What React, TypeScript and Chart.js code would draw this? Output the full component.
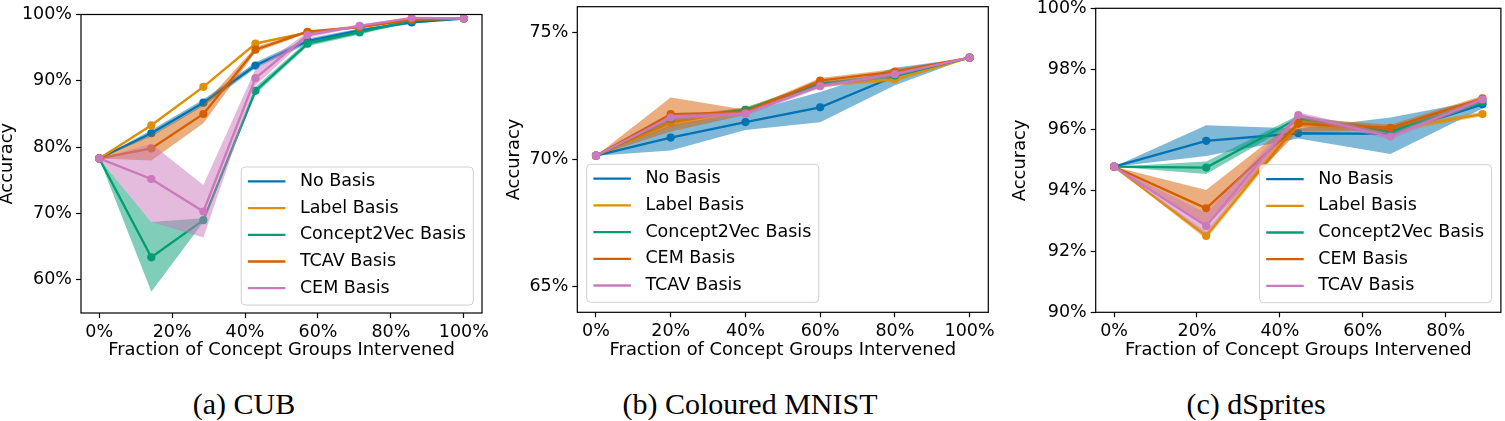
import React, { useEffect, useRef } from 'react';
import { Chart, registerables } from 'chart.js';

Chart.register(...registerables);

const COLORS = ['#0173b2', '#de8f05', '#029e73', '#d55e00', '#cc78bc'];
const FONT = '"DejaVu Sans", sans-serif';
const FS = 17.5;

// ---------- (a) CUB ----------
const CUB_X = [0, 14.29, 28.57, 42.86, 57.14, 71.43, 85.71, 100];
const CUB_X_TICKS = [0, 20, 40, 60, 80, 100];
const CUB_Y_TICKS = [60, 70, 80, 90, 100];
const CUB_LABELS = ['No Basis', 'Label Basis', 'Concept2Vec Basis', 'TCAV Basis', 'CEM Basis'];
const CUB_NO_BASIS = [78.3, 82.1, 86.7, 92.3, 96.0, 97.6, 98.8, 99.4];
const CUB_NO_BASIS_LO = [78.3, 81.6, 86.2, 91.9, 95.6, 97.3, 98.6, 99.4];
const CUB_NO_BASIS_HI = [78.3, 82.6, 87.2, 92.8, 96.4, 97.9, 99.0, 99.4];
const CUB_LABEL = [78.3, 83.3, 89.1, 95.6, 97.3, 98.1, 99.3, 99.4];
const CUB_LABEL_LO = [78.3, 83.1, 88.95, 95.4, 97.2, 98.0, 99.2, 99.4];
const CUB_LABEL_HI = [78.3, 83.5, 89.25, 95.8, 97.4, 98.2, 99.4, 99.4];
const CUB_C2V = [78.3, 63.4, 69.0, 88.5, 95.6, 97.3, 99.1, 99.4];
const CUB_C2V_LO = [78.3, 58.2, 68.7, 88.0, 95.2, 97.0, 98.9, 99.4];
const CUB_C2V_HI = [78.3, 68.7, 69.3, 89.1, 96.0, 97.6, 99.3, 99.4];
const CUB_TCAV = [78.3, 79.8, 85.0, 94.7, 97.4, 98.1, 99.2, 99.4];
const CUB_TCAV_LO = [78.3, 78.0, 83.6, 94.3, 97.2, 98.0, 99.1, 99.4];
const CUB_TCAV_HI = [78.3, 81.8, 86.4, 95.1, 97.6, 98.3, 99.3, 99.4];
const CUB_CEM = [78.3, 75.2, 70.3, 90.4, 96.9, 98.3, 99.5, 99.4];
const CUB_CEM_LO = [78.3, 68.7, 66.4, 89.3, 96.5, 98.1, 99.4, 99.4];
const CUB_CEM_HI = [78.3, 80.5, 74.3, 91.8, 97.3, 98.5, 99.6, 99.4];

// ---------- (b) Coloured MNIST ----------
const MNIST_X = [0, 20, 40, 60, 80, 100];
const MNIST_X_TICKS = [0, 20, 40, 60, 80, 100];
const MNIST_Y_TICKS = [65, 70, 75];
const MNIST_LABELS = ['No Basis', 'Label Basis', 'Concept2Vec Basis', 'CEM Basis', 'TCAV Basis'];
const MNIST_NO_BASIS = [70.15, 70.86, 71.47, 72.05, 73.27, 74.0];
const MNIST_NO_BASIS_LO = [70.15, 70.35, 71.16, 71.46, 72.92, 74.0];
const MNIST_NO_BASIS_HI = [70.15, 71.35, 71.85, 72.65, 73.6, 74.0];
const MNIST_LABEL = [70.15, 71.45, 71.95, 72.95, 73.15, 74.0];
const MNIST_LABEL_LO = [70.15, 71.3, 71.85, 72.85, 73.05, 74.0];
const MNIST_LABEL_HI = [70.15, 71.6, 72.05, 73.05, 73.25, 74.0];
const MNIST_C2V = [70.15, 71.6, 71.95, 72.97, 73.3, 74.0];
const MNIST_C2V_LO = [70.15, 71.5, 71.87, 72.89, 73.22, 74.0];
const MNIST_C2V_HI = [70.15, 71.7, 72.03, 73.05, 73.38, 74.0];
const MNIST_CEM = [70.15, 71.78, 71.85, 73.1, 73.45, 74.0];
const MNIST_CEM_LO = [70.15, 71.1, 71.75, 73.0, 73.35, 74.0];
const MNIST_CEM_HI = [70.15, 72.43, 71.95, 73.2, 73.55, 74.0];
const MNIST_TCAV = [70.15, 71.65, 71.8, 72.88, 73.35, 74.0];
const MNIST_TCAV_LO = [70.15, 71.55, 71.72, 72.8, 73.27, 74.0];
const MNIST_TCAV_HI = [70.15, 71.75, 71.88, 72.96, 73.43, 74.0];

// ---------- (c) dSprites ----------
const DSPR_X = [0, 22.22, 44.44, 66.67, 88.89];
const DSPR_X_TICKS = [0, 20, 40, 60, 80];
const DSPR_Y_TICKS = [90, 92, 94, 96, 98, 100];
const DSPR_LABELS = ['No Basis', 'Label Basis', 'Concept2Vec Basis', 'CEM Basis', 'TCAV Basis'];
const DSPR_NO_BASIS = [94.79, 95.64, 95.89, 95.87, 96.84];
const DSPR_NO_BASIS_LO = [94.79, 95.14, 95.72, 95.21, 96.7];
const DSPR_NO_BASIS_HI = [94.79, 96.15, 96.05, 96.41, 96.98];
const DSPR_LABEL = [94.79, 92.51, 96.22, 96.0, 96.52];
const DSPR_LABEL_LO = [94.79, 92.4, 96.1, 95.9, 96.45];
const DSPR_LABEL_HI = [94.79, 92.65, 96.35, 96.1, 96.6];
const DSPR_C2V = [94.79, 94.76, 96.38, 95.94, 96.93];
const DSPR_C2V_LO = [94.79, 94.55, 96.28, 95.84, 96.85];
const DSPR_C2V_HI = [94.79, 94.96, 96.48, 96.04, 97.01];
const DSPR_CEM = [94.79, 93.42, 96.2, 96.07, 97.04];
const DSPR_CEM_LO = [94.79, 92.82, 95.95, 95.97, 96.96];
const DSPR_CEM_HI = [94.79, 94.02, 96.4, 96.17, 97.12];
const DSPR_TCAV = [94.79, 92.84, 96.49, 95.78, 97.0];
const DSPR_TCAV_LO = [94.79, 92.55, 96.4, 95.68, 96.92];
const DSPR_TCAV_HI = [94.79, 93.26, 96.58, 95.88, 97.08];

const Y_TITLE = 'Accuracy';
const X_TITLE = 'Fraction of Concept Groups Intervened';

type Series = { label: string; mean: number[]; lo: number[]; hi: number[] };

const PANELS = [
  {
    key: 'cub', left: 0, width: 500, height: 370,
    area: { left: 81, right: 482, top: 14.5, bottom: 313 },
    x: CUB_X, xMin: -5, xMax: 105, xTicks: CUB_X_TICKS,
    yMin: 55, yMax: 100, yTicks: CUB_Y_TICKS, yTitlePad: -1.5,
    legend: { side: 'right', dx: 8.7, dy: 8 },
    caption: '(a) CUB', captionX: 244,
    series: [
      { label: CUB_LABELS[0], mean: CUB_NO_BASIS, lo: CUB_NO_BASIS_LO, hi: CUB_NO_BASIS_HI },
      { label: CUB_LABELS[1], mean: CUB_LABEL, lo: CUB_LABEL_LO, hi: CUB_LABEL_HI },
      { label: CUB_LABELS[2], mean: CUB_C2V, lo: CUB_C2V_LO, hi: CUB_C2V_HI },
      { label: CUB_LABELS[3], mean: CUB_TCAV, lo: CUB_TCAV_LO, hi: CUB_TCAV_HI },
      { label: CUB_LABELS[4], mean: CUB_CEM, lo: CUB_CEM_LO, hi: CUB_CEM_HI },
    ] as Series[],
  },
  {
    key: 'mnist', left: 500, width: 500, height: 370,
    area: { left: 77.3, right: 488.3, top: 6.7, bottom: 312.3 },
    x: MNIST_X, xMin: -5, xMax: 105, xTicks: MNIST_X_TICKS,
    yMin: 64, yMax: 76, yTicks: MNIST_Y_TICKS, yTitlePad: 5.9,
    legend: { side: 'left', dx: 9.4, dy: 10 },
    caption: '(b) Coloured MNIST', captionX: 750,
    series: [
      { label: MNIST_LABELS[0], mean: MNIST_NO_BASIS, lo: MNIST_NO_BASIS_LO, hi: MNIST_NO_BASIS_HI },
      { label: MNIST_LABELS[1], mean: MNIST_LABEL, lo: MNIST_LABEL_LO, hi: MNIST_LABEL_HI },
      { label: MNIST_LABELS[2], mean: MNIST_C2V, lo: MNIST_C2V_LO, hi: MNIST_C2V_HI },
      { label: MNIST_LABELS[3], mean: MNIST_CEM, lo: MNIST_CEM_LO, hi: MNIST_CEM_HI },
      { label: MNIST_LABELS[4], mean: MNIST_TCAV, lo: MNIST_TCAV_LO, hi: MNIST_TCAV_HI },
    ] as Series[],
  },
  {
    key: 'dspr', left: 1000, width: 505, height: 370,
    area: { left: 95.7, right: 502, top: 8.3, bottom: 312.3 },
    x: DSPR_X, xMin: -4.444, xMax: 93.333, xTicks: DSPR_X_TICKS,
    yMin: 90, yMax: 100, yTicks: DSPR_Y_TICKS, yTitlePad: 11.9,
    legend: { side: 'right', dx: 9.3, dy: 9.6 },
    caption: '(c) dSprites', captionX: 1256,
    series: [
      { label: DSPR_LABELS[0], mean: DSPR_NO_BASIS, lo: DSPR_NO_BASIS_LO, hi: DSPR_NO_BASIS_HI },
      { label: DSPR_LABELS[1], mean: DSPR_LABEL, lo: DSPR_LABEL_LO, hi: DSPR_LABEL_HI },
      { label: DSPR_LABELS[2], mean: DSPR_C2V, lo: DSPR_C2V_LO, hi: DSPR_C2V_HI },
      { label: DSPR_LABELS[3], mean: DSPR_CEM, lo: DSPR_CEM_LO, hi: DSPR_CEM_HI },
      { label: DSPR_LABELS[4], mean: DSPR_TCAV, lo: DSPR_TCAV_LO, hi: DSPR_TCAV_HI },
    ] as Series[],
  },
];

function hexA(hex: string, a: number) {
  const n = parseInt(hex.slice(1), 16);
  return `rgba(${(n >> 16) & 255},${(n >> 8) & 255},${n & 255},${a})`;
}

function roundRectPath(ctx: CanvasRenderingContext2D, x: number, y: number, w: number, h: number, r: number) {
  ctx.beginPath();
  ctx.moveTo(x + r, y);
  ctx.lineTo(x + w - r, y);
  ctx.arcTo(x + w, y, x + w, y + r, r);
  ctx.lineTo(x + w, y + h - r);
  ctx.arcTo(x + w, y + h, x + w - r, y + h, r);
  ctx.lineTo(x + r, y + h);
  ctx.arcTo(x, y + h, x, y + h - r, r);
  ctx.lineTo(x, y + r);
  ctx.arcTo(x, y, x + r, y, r);
  ctx.closePath();
}

const framePlugin = {
  id: 'frame',
  afterDatasetsDraw(chart: any) {
    const { ctx, chartArea: a } = chart;
    ctx.save();
    ctx.strokeStyle = '#000';
    ctx.lineWidth = 1.2;
    ctx.strokeRect(a.left, a.top, a.right - a.left, a.bottom - a.top);
    ctx.restore();
  },
};

function makeLegendPlugin(cfg: { side: string; dx: number; dy: number }) {
  return {
    id: 'mplLegend',
    afterDraw(chart: any) {
      const { ctx, chartArea: a } = chart;
      const items = chart.data.datasets.filter((d: any) => d.isMean);
      ctx.save();
      ctx.font = `${FS}px ${FONT}`;
      const textW = Math.max(...items.map((d: any) => ctx.measureText(d.label).width));
      const padL = 6.7, lineLen = 37.5, gap = 14.5, padR = 7.5;
      const rowH = 26.7, firstRow = 14.4, boxH = 138;
      const w = padL + lineLen + gap + textW + padR;
      const x = cfg.side === 'left' ? a.left + cfg.dx : a.right - cfg.dx - w;
      const y = a.bottom - cfg.dy - boxH;
      roundRectPath(ctx, x, y, w, boxH, 4);
      ctx.fillStyle = 'rgba(255,255,255,0.8)';
      ctx.fill();
      ctx.strokeStyle = '#d0d0d0';
      ctx.lineWidth = 1;
      ctx.stroke();
      items.forEach((d: any, i: number) => {
        const cy = y + firstRow + i * rowH;
        ctx.strokeStyle = d.borderColor;
        ctx.lineWidth = 2.3;
        ctx.beginPath();
        ctx.moveTo(x + padL, cy);
        ctx.lineTo(x + padL + lineLen, cy);
        ctx.stroke();
        ctx.fillStyle = '#000';
        ctx.textBaseline = 'middle';
        ctx.textAlign = 'left';
        ctx.fillText(d.label, x + padL + lineLen + gap, cy);
      });
      ctx.restore();
    },
  };
}

function Panel({ cfg }: { cfg: (typeof PANELS)[number] }) {
  const ref = useRef<HTMLCanvasElement>(null);
  useEffect(() => {
    if (!ref.current) return;
    const datasets: any[] = [];
    cfg.series.forEach((s, i) => {
      const color = COLORS[i];
      const base = 100 - i * 10;
      datasets.push({
        label: s.label + ' upper',
        data: cfg.x.map((x, j) => ({ x, y: s.hi[j] })),
        borderWidth: 0, borderColor: 'rgba(0,0,0,0)', pointRadius: 0,
        backgroundColor: hexA(color, 0.5), fill: '+1', order: base, tension: 0,
      });
      datasets.push({
        label: s.label + ' lower',
        data: cfg.x.map((x, j) => ({ x, y: s.lo[j] })),
        borderWidth: 0, borderColor: 'rgba(0,0,0,0)', pointRadius: 0,
        fill: false, order: base - 1, tension: 0,
      });
      datasets.push({
        label: s.label,
        isMean: true,
        data: cfg.x.map((x, j) => ({ x, y: s.mean[j] })),
        borderColor: color, backgroundColor: color, borderWidth: 2.3,
        pointRadius: 4.1, pointBorderWidth: 0, pointBackgroundColor: color,
        fill: false, order: base - 2, tension: 0,
      });
    });
    const a = cfg.area;
    const chart = new Chart(ref.current, {
      type: 'line',
      data: { datasets },
      plugins: [framePlugin, makeLegendPlugin(cfg.legend)],
      options: {
        animation: false,
        responsive: false,
        events: [],
        layout: { padding: { left: 0, right: cfg.width - a.right, top: a.top, bottom: 0 } },
        plugins: { legend: { display: false }, tooltip: { enabled: false } },
        scales: {
          x: {
            type: 'linear', min: cfg.xMin, max: cfg.xMax,
            afterBuildTicks: (scale: any) => { scale.ticks = cfg.xTicks.map((v) => ({ value: v })); },
            afterFit: (scale: any) => { scale.height = cfg.height - a.bottom; scale.paddingLeft = 0; scale.paddingRight = 0; },
            ticks: { color: '#000', font: { family: FONT, size: FS }, padding: 3.5, maxRotation: 0, autoSkip: false, callback: (v: any) => v + '%' },
            grid: { display: true, drawOnChartArea: false, drawTicks: true, tickLength: 5, tickColor: '#000', tickWidth: 1.2 },
            border: { display: false },
            title: { display: true, text: X_TITLE, color: '#000', font: { family: FONT, size: 17.9, lineHeight: 1 }, padding: { top: 0, bottom: 10.2 } },
          },
          y: {
            type: 'linear', min: cfg.yMin, max: cfg.yMax,
            afterBuildTicks: (scale: any) => { scale.ticks = cfg.yTicks.map((v) => ({ value: v })); },
            afterFit: (scale: any) => { scale.width = a.left; scale.paddingTop = 0; scale.paddingBottom = 0; },
            ticks: { color: '#000', font: { family: FONT, size: FS }, padding: 4, autoSkip: false, callback: (v: any) => v + '%' },
            grid: { display: true, drawOnChartArea: false, drawTicks: true, tickLength: 5, tickColor: '#000', tickWidth: 1.2 },
            border: { display: false },
            title: { display: true, text: Y_TITLE, color: '#000', font: { family: FONT, size: 17.9, lineHeight: 1 }, padding: { top: cfg.yTitlePad, bottom: 0 } },
          },
        },
      } as any,
    });
    return () => chart.destroy();
  }, [cfg]);
  return (
    <canvas
      ref={ref}
      width={cfg.width}
      height={cfg.height}
      style={{ position: 'absolute', left: cfg.left, top: 0, width: cfg.width, height: cfg.height }}
    />
  );
}

export default function App() {
  return (
    <div style={{ position: 'fixed', left: 0, top: 0, width: 1505, height: 421, background: '#fff', overflow: 'hidden' }}>
      {PANELS.map((p) => (
        <Panel key={p.key} cfg={p} />
      ))}
      {PANELS.map((p) => (
        <div
          key={p.key + '-cap'}
          style={{
            position: 'absolute', left: p.captionX - 200, width: 400, top: 389,
            textAlign: 'center', fontFamily: '"Liberation Serif", "Times New Roman", serif',
            fontSize: 30, lineHeight: '30px', color: '#000', whiteSpace: 'nowrap',
          }}
        >
          {p.caption}
        </div>
      ))}
    </div>
  );
}
